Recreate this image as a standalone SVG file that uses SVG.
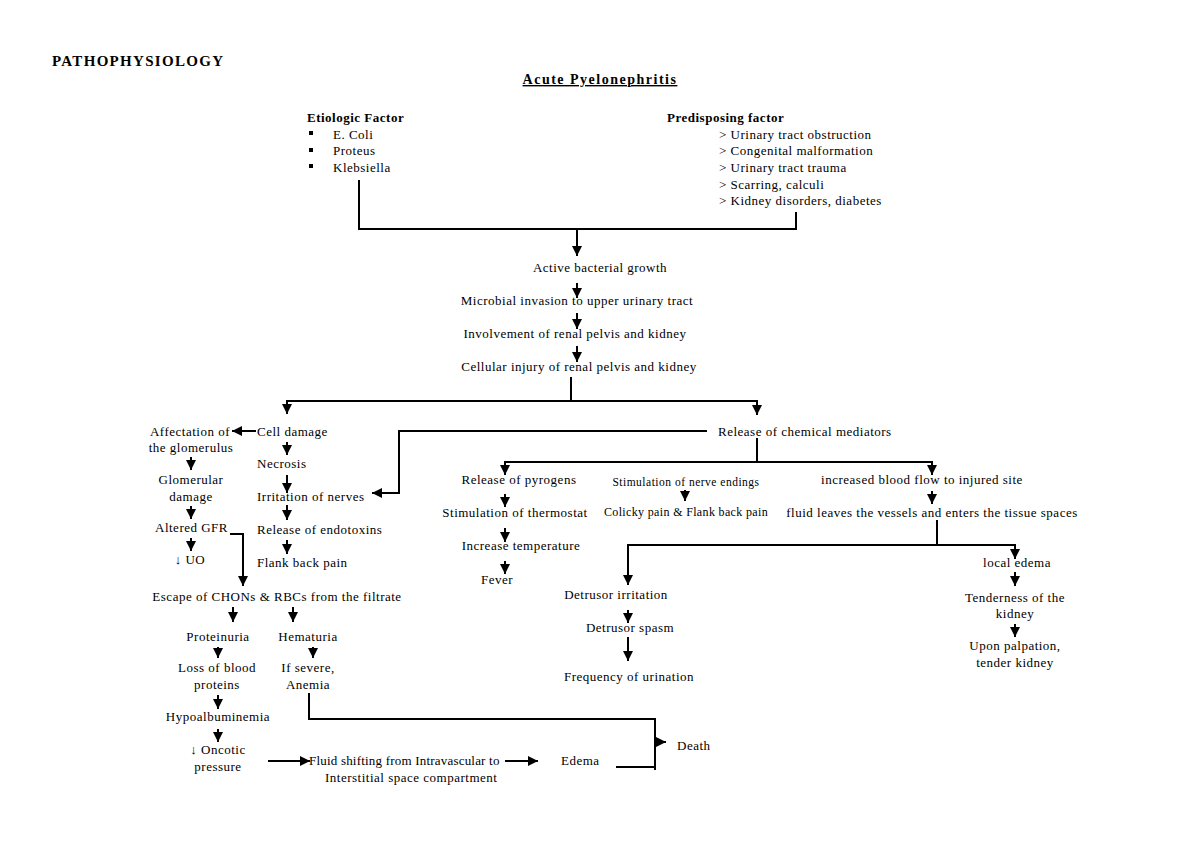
<svg xmlns="http://www.w3.org/2000/svg" width="1200" height="848" viewBox="0 0 1200 848">
<defs>
<marker id="ah" viewBox="0 0 10 10" refX="10" refY="5" markerWidth="10" markerHeight="10" markerUnits="userSpaceOnUse" orient="auto">
<path d="M0,0 L10,5 L0,10 z" fill="#000"/>
</marker>
</defs>
<style>
text{font-family:"Liberation Serif","Times New Roman",serif;font-size:13px;letter-spacing:0.5px;fill:#000}
.b{font-weight:bold}
.m{text-anchor:middle}
.s{font-size:11.5px}
.c line,.c path{stroke:#000;stroke-width:2;fill:none}
.a{marker-end:url(#ah)}
</style>
<rect width="1200" height="848" fill="#fff"/>
<text class="b" x="52" y="66" style="font-size:15px;letter-spacing:1.3px">PATHOPHYSIOLOGY</text>
<text class="b m" x="600" y="84" style="font-size:14px;letter-spacing:1.5px;text-decoration:underline">Acute Pyelonephritis</text>

<g id="etiologic">
<text class="b" x="307" y="122">Etiologic Factor</text>
<rect x="309" y="131" width="4" height="4"/>
<rect x="309" y="148" width="4" height="4"/>
<rect x="309" y="164" width="4" height="4"/>
<text x="333" y="139">E. Coli</text>
<text x="333" y="155">Proteus</text>
<text x="333" y="172">Klebsiella</text>
</g>
<g id="predisposing">
<text class="b" x="667" y="122">Predisposing factor</text>
<text x="719" y="139">&gt; Urinary tract obstruction</text>
<text x="719" y="155">&gt; Congenital malformation</text>
<text x="719" y="172">&gt; Urinary tract trauma</text>
<text x="719" y="189">&gt; Scarring, calculi</text>
<text x="719" y="205">&gt; Kidney disorders, diabetes</text>
</g>

<g id="n-growth"><text class="m" x="600" y="272">Active bacterial growth</text></g>
<g id="n-invasion"><text class="m" x="577" y="305">Microbial invasion to upper urinary tract</text></g>
<g id="n-involvement"><text class="m" x="575" y="338">Involvement of renal pelvis and kidney</text></g>
<g id="n-injury"><text class="m" x="579" y="371">Cellular injury of renal pelvis and kidney</text></g>

<g id="n-celldamage"><text x="257" y="436">Cell damage</text></g>
<g id="n-affectation"><text class="m" x="190" y="436">Affectation of</text><text class="m" x="191" y="452">the glomerulus</text></g>
<g id="n-glomdamage"><text class="m" x="191" y="484">Glomerular</text><text class="m" x="191" y="501">damage</text></g>
<g id="n-gfr"><text x="155" y="532">Altered GFR</text></g>
<g id="n-uo"><text class="m" x="190" y="564">↓ UO</text></g>
<g id="n-necrosis"><text x="257" y="468">Necrosis</text></g>
<g id="n-irritation"><text x="257" y="501">Irritation of nerves</text></g>
<g id="n-endotoxins"><text x="257" y="534">Release of endotoxins</text></g>
<g id="n-flank"><text x="257" y="567">Flank back pain</text></g>

<g id="n-mediators"><text x="718" y="436">Release of chemical mediators</text></g>
<g id="n-pyrogens"><text class="m" x="519" y="484">Release of pyrogens</text></g>
<g id="n-thermostat"><text class="m" x="515" y="517">Stimulation of thermostat</text></g>
<g id="n-temp"><text class="m" x="521" y="550">Increase temperature</text></g>
<g id="n-fever"><text class="m" x="497" y="584">Fever</text></g>
<g id="n-nerveendings"><text class="m s" x="686" y="486">Stimulation of nerve endings</text></g>
<g id="n-colicky"><text class="m" x="686" y="516" style="font-size:12px;letter-spacing:0.35px">Colicky pain &amp; Flank back pain</text></g>
<g id="n-bloodflow"><text class="m" x="922" y="484">increased blood flow to injured site</text></g>
<g id="n-fluidleaves"><text class="m" x="932" y="517">fluid leaves the vessels and enters the tissue spaces</text></g>
<g id="n-localedema"><text class="m" x="1017" y="567">local edema</text></g>
<g id="n-tenderness"><text class="m" x="1015" y="602">Tenderness of the</text><text class="m" x="1015" y="618">kidney</text></g>
<g id="n-palpation"><text class="m" x="1015" y="650">Upon palpation,</text><text class="m" x="1015" y="667">tender kidney</text></g>
<g id="n-detirr"><text class="m" x="616" y="599">Detrusor irritation</text></g>
<g id="n-detspasm"><text class="m" x="630" y="632">Detrusor spasm</text></g>
<g id="n-frequency"><text class="m" x="629" y="681">Frequency of urination</text></g>

<g id="n-escape"><text class="m" x="277" y="601">Escape of CHONs &amp; RBCs from the filtrate</text></g>
<g id="n-proteinuria"><text class="m" x="218" y="641">Proteinuria</text></g>
<g id="n-hematuria"><text class="m" x="308" y="641">Hematuria</text></g>
<g id="n-loss"><text class="m" x="217" y="672">Loss of blood</text><text class="m" x="217" y="689">proteins</text></g>
<g id="n-severe"><text class="m" x="308" y="672">If severe,</text><text class="m" x="308" y="689">Anemia</text></g>
<g id="n-hypo"><text class="m" x="218" y="721">Hypoalbuminemia</text></g>
<g id="n-oncotic"><text class="m" x="218" y="754">↓ Oncotic</text><text class="m" x="218" y="771">pressure</text></g>
<g id="n-shifting"><text x="309" y="765" style="letter-spacing:0.2px">Fluid shifting from Intravascular to</text><text x="325" y="782">Interstitial space compartment</text></g>
<g id="n-edema"><text x="561" y="765">Edema</text></g>
<g id="n-death"><text x="677" y="750">Death</text></g>

<g id="connectors" class="c">
<path d="M359,180 V229 H796 V212"/>
<line class="a" x1="577" y1="229" x2="577" y2="256"/>
<line class="a" x1="577" y1="283" x2="577" y2="298"/>
<line class="a" x1="577" y1="313" x2="577" y2="329"/>
<line class="a" x1="577" y1="346" x2="577" y2="362"/>
<path d="M571,377 V401 M287,401 H757"/>
<line class="a" x1="287" y1="400" x2="287" y2="414"/>
<line class="a" x1="757" y1="400" x2="757" y2="415"/>
<line class="a" x1="256" y1="431" x2="232" y2="431"/>
<line class="a" x1="191" y1="457" x2="191" y2="470"/>
<line class="a" x1="191" y1="506" x2="191" y2="519"/>
<line class="a" x1="191" y1="538" x2="191" y2="551"/>
<path class="a" d="M230,534 H243 V586"/>
<line class="a" x1="287" y1="442" x2="287" y2="455"/>
<line class="a" x1="287" y1="475" x2="287" y2="493"/>
<line class="a" x1="287" y1="505" x2="287" y2="520"/>
<line class="a" x1="287" y1="540" x2="287" y2="554"/>
<path class="a" d="M707,431 H399 V493 H372"/>
<path d="M757,438 V462 M505,462 H932"/>
<line class="a" x1="505" y1="461" x2="505" y2="475"/>
<line class="a" x1="932" y1="461" x2="932" y2="475"/>
<line class="a" x1="505" y1="494" x2="505" y2="507"/>
<line class="a" x1="505" y1="528" x2="505" y2="542"/>
<line class="a" x1="505" y1="561" x2="505" y2="574"/>
<line class="a" x1="685" y1="490" x2="685" y2="501"/>
<line class="a" x1="932" y1="491" x2="932" y2="504"/>
<path d="M937,520 V545 M628,545 H1015"/>
<line class="a" x1="628" y1="544" x2="628" y2="585"/>
<line class="a" x1="1015" y1="544" x2="1015" y2="559"/>
<line class="a" x1="1015" y1="572" x2="1015" y2="586"/>
<line class="a" x1="1015" y1="624" x2="1015" y2="637"/>
<line class="a" x1="628" y1="610" x2="628" y2="623"/>
<line class="a" x1="628" y1="637" x2="628" y2="661"/>
<line class="a" x1="233" y1="607" x2="233" y2="622"/>
<line class="a" x1="293" y1="607" x2="293" y2="622"/>
<line class="a" x1="218" y1="647" x2="218" y2="658"/>
<line class="a" x1="313" y1="647" x2="313" y2="658"/>
<line class="a" x1="218" y1="695" x2="218" y2="709"/>
<line class="a" x1="218" y1="729" x2="218" y2="742"/>
<path d="M309,693 V719 H655 V770 M616,767 H655"/>
<line class="a" x1="655" y1="742" x2="666" y2="742"/>
<line class="a" x1="268" y1="761" x2="310" y2="761"/>
<line class="a" x1="505" y1="761" x2="538" y2="761"/>
</g>
</svg>
